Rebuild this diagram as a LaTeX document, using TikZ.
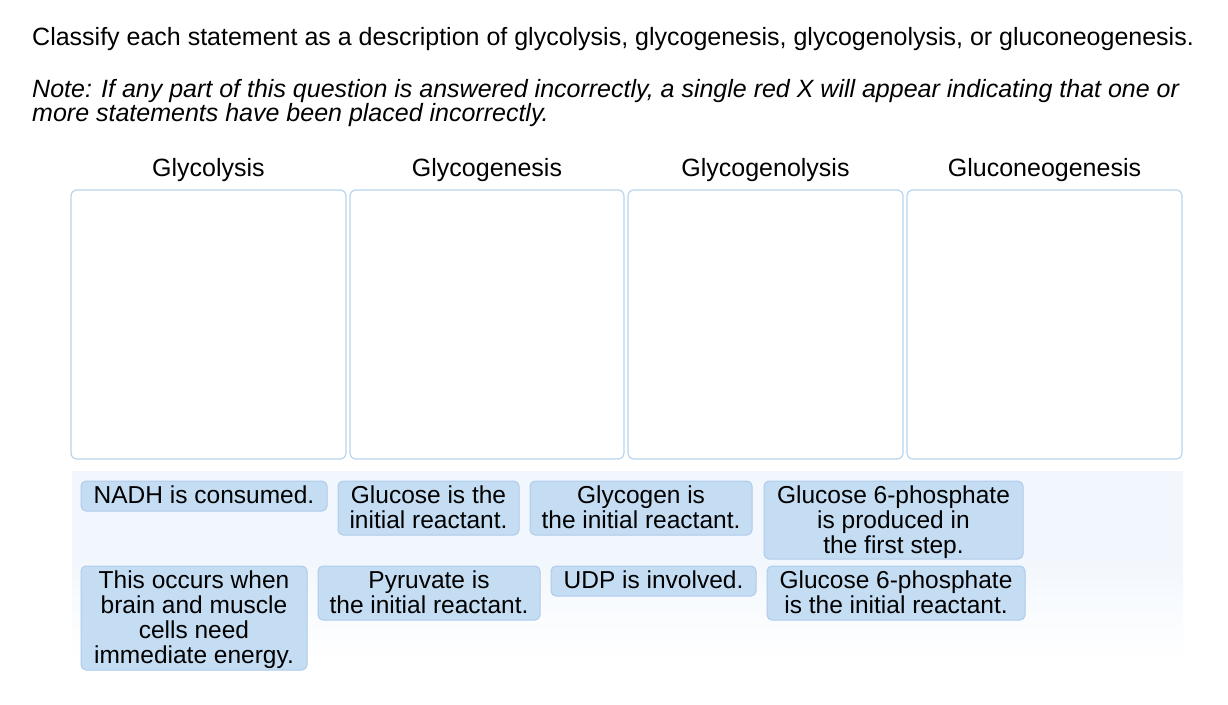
\documentclass[tikz,border=0pt]{standalone}
\usepackage{fontspec}
\setmainfont{Liberation Sans}
\begin{document}
\begin{tikzpicture}[x=1pt,y=-1pt,
 col/.style={draw=colb,line width=1.2pt,rounded corners=6pt},
 tile/.style={fill=tilef,draw=tileb,line width=1pt,rounded corners=5pt},
 tt/.style={align=center,font=\fontsize{24.5}{25}\selectfont,inner sep=0pt},
 hd/.style={font=\fontsize{25}{24}\selectfont,inner sep=0pt}]
\definecolor{colb}{HTML}{B8D4EE}
\definecolor{tilef}{HTML}{C5DDF3}
\definecolor{tileb}{HTML}{AECBEA}
\definecolor{pool}{HTML}{F2F7FD}
\useasboundingbox (0,0) rectangle (1228,704);
\fill[white] (0,0) rectangle (1228,704);
\node[hd,anchor=west] (title) at (32,39) {Classify each statement as a description of glycolysis, glycogenesis, glycogenolysis, or gluconeogenesis.};
\node[hd,anchor=north west,align=left,font=\itshape\fontsize{25}{24}\selectfont] (note) at (32,79) {Note: If any part of this question is answered incorrectly, a single red X will appear indicating that one or\\more statements have been placed incorrectly.};
\foreach \a/\b/\t/\n in {71/346/Glycolysis/c1,350/624/Glycogenesis/c2,628/903/Glycogenolysis/c3,907/1182/Gluconeogenesis/c4}{
 \draw[col] (\a,190) rectangle (\b,459);
 \node[hd] (\n) at ({(\a+\b)/2},170) {\t};
}
\shade[top color=pool,bottom color=white] (72,560) rectangle (1183,660);
\fill[pool] (72,471) rectangle (1183,560);
\newcommand\tl[7]{\draw[tile] (#1,#2) rectangle (#3,#4); \node[tt] (#6) at ({(#1+#3)/2},{(#2+#4)/2+#7}) {#5};}
\tl{81}{481}{327}{511}{NADH is consumed.}{t1}{-1}
\tl{338}{481}{519}{535}{Glucose is the\\initial reactant.}{t2}{-1}
\tl{530}{481}{752}{535}{Glycogen is\\the initial reactant.}{t3}{-1}
\tl{764}{481}{1023}{559}{Glucose 6-phosphate\\is produced in\\the first step.}{t4}{2}
\tl{81}{566}{307}{670}{This occurs when\\brain and muscle\\cells need\\immediate energy.}{t5}{2}
\tl{318}{566}{540}{620}{Pyruvate is\\the initial reactant.}{t6}{-1}
\tl{551}{566}{756}{596}{UDP is involved.}{t7}{-1}
\tl{767}{566}{1025}{620}{Glucose 6-phosphate\\is the initial reactant.}{t8}{-1}
\end{tikzpicture}
\end{document}
